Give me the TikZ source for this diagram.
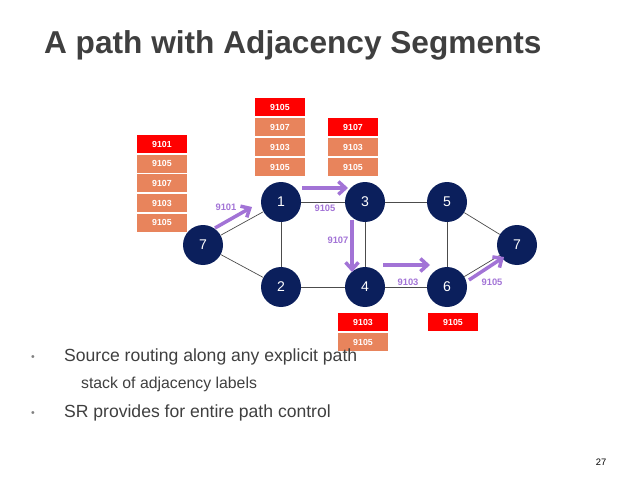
\documentclass[tikz,border=0pt]{standalone}
\usepackage{fontspec}
\setmainfont{Liberation Sans}
\usetikzlibrary{arrows.meta}
\definecolor{navy}{HTML}{0B1F5C}
\definecolor{lblred}{HTML}{FF0000}
\definecolor{lblorg}{HTML}{E8845C}
\definecolor{pathv}{HTML}{A273D6}
\definecolor{titleg}{HTML}{3F3F3F}
\tikzset{
  router/.style={circle,fill=navy,minimum size=40*0.03cm,inner sep=0pt,text=white,font=\fontsize{12}{12}\selectfont},
  top/.style={fill=lblred,minimum width=50*0.03cm,minimum height=18*0.03cm,inner sep=0pt,text=white,font=\bfseries\fontsize{7.5}{8}\selectfont},
  lbl/.style={top,fill=lblorg},
  hop/.style={draw=pathv,line width=3pt,-{Straight Barb[length=6pt,width=11pt]}},
  hoplbl/.style={text=pathv,font=\bfseries\fontsize{8}{8}\selectfont,inner sep=1pt},
  link/.style={draw=black!70,line width=0.6pt}
}
\begin{document}
\begin{tikzpicture}[x=0.03cm,y=-0.03cm]
    \useasboundingbox (0,0) rectangle (638,478);

    \node [anchor=west,text=titleg,font=\bfseries\fontsize{27}{27}\selectfont] (title) at (40,45) {A path with Adjacency Segments};

    % routers
    \node [router] (r7a) at (203,245) {7};
    \node [router] (r1) at (281,202) {1};
    \node [router] (r3) at (365,202) {3};
    \node [router] (r5) at (447,202) {5};
    \node [router] (r2) at (281,287) {2};
    \node [router] (r4) at (365,287) {4};
    \node [router] (r6) at (447,287) {6};
    \node [router] (r7b) at (517,245) {7};

    % links
    \foreach \a/\b in {r7a/r1,r7a/r2,r1/r3,r1/r2,r3/r4,r3/r5,r2/r4,r4/r6,r5/r6,r5/r7b,r6/r7b}
        \draw [link] (\a) -- (\b);

    % label stacks
    \node [top] (s7a) at (162,144) {9101};
    \foreach \t [count=\i] in {9105,9107,9103,9105}
        \node [lbl] (s7a\i) at (162,144+19.7*\i) {\t};
    \node [top] (s1) at (280,107) {9105};
    \foreach \t [count=\i] in {9107,9103,9105}
        \node [lbl] (s1\i) at (280,107+20*\i) {\t};
    \node [top] (s3) at (353,127) {9107};
    \foreach \t [count=\i] in {9103,9105}
        \node [lbl] (s3\i) at (353,127+20*\i) {\t};
    \node [top] (s4) at (363,322) {9103};
    \node [lbl] (s41) at (363,342) {9105};
    \node [top] (s6) at (453,322) {9105};

    % path
    \coordinate (h1a) at (215,228); \coordinate (h1b) at (252,207);
    \coordinate (h2a) at (302,188); \coordinate (h2b) at (348,188);
    \coordinate (h3a) at (352,220); \coordinate (h3b) at (352,272);
    \coordinate (h4a) at (383,265); \coordinate (h4b) at (430,265);
    \coordinate (h5a) at (469,280); \coordinate (h5b) at (504,257);
    \draw [hop] (h1a) -- (h1b);
    \draw [hop] (h2a) -- (h2b);
    \draw [hop] (h3a) -- (h3b);
    \draw [hop] (h4a) -- (h4b);
    \draw [hop] (h5a) -- (h5b);
    \node [hoplbl] (l1) at (226,207) {9101};
    \node [hoplbl] (l2) at (325,208) {9105};
    \node [hoplbl] (l3) at (338,240) {9107};
    \node [hoplbl] (l4) at (408,282) {9103};
    \node [hoplbl] (l5) at (492,282) {9105};

    % bullets
    \node [text=black!50,font=\fontsize{9}{9}\selectfont] (d1) at (33,358) {•};
    \node [anchor=west,text=titleg,font=\fontsize{15}{16}\selectfont] (b1) at (60,357) {Source routing along any explicit path};
    \node [anchor=west,text=titleg,font=\fontsize{13.5}{14}\selectfont] (b2) at (77,384) {stack of adjacency labels};
    \node [text=black!50,font=\fontsize{9}{9}\selectfont] (d3) at (33,414) {•};
    \node [anchor=west,text=titleg,font=\fontsize{15}{16}\selectfont] (b3) at (60,413) {SR provides for entire path control};
    \node [text=black,font=\fontsize{8}{8}\selectfont] (pg) at (601,462) {27};
\end{tikzpicture}
\end{document}
